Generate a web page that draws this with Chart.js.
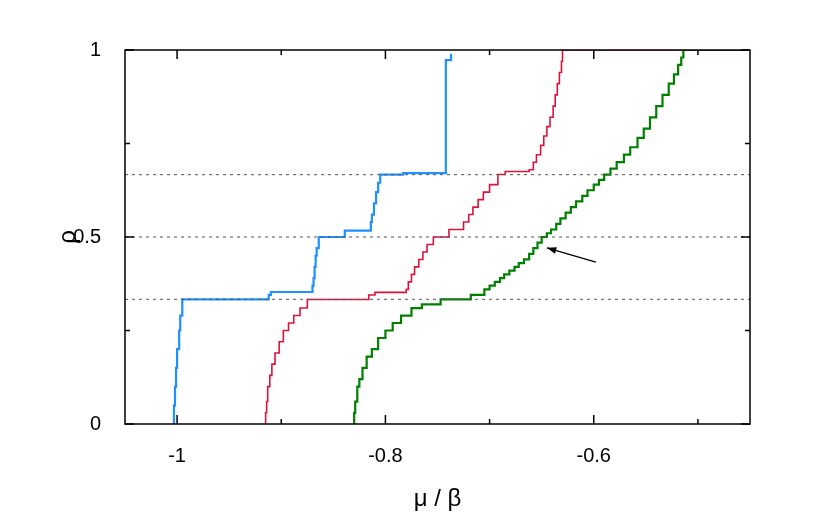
<!DOCTYPE html>
<html><head><script src="https://cdn.jsdelivr.net/npm/chart.js"></script>
<style>body{margin:0;background:#fff}#w{width:830px;height:518px}</style></head>
<body><div id="w"><canvas id="c"></canvas></div>
<script>
const blueX=[-1.004,-1.003,-1.002,-1.001,-1.000,-0.998,-0.997,-0.995,-0.912,-0.910,-0.870,-0.869,-0.868,-0.867,-0.866,-0.864,-0.839,-0.814,-0.813,-0.811,-0.809,-0.807,-0.805,-0.783,-0.742,-0.737];
const blueY=[0,0.05,0.1,0.15,0.2,0.25,0.29,0.333,0.345,0.353,0.37,0.39,0.42,0.45,0.47,0.5,0.517,0.54,0.56,0.59,0.62,0.645,0.667,0.671,0.973,0.99];
const redX=[-0.916,-0.915,-0.914,-0.913,-0.911,-0.909,-0.906,-0.902,-0.898,-0.893,-0.888,-0.882,-0.875,-0.816,-0.81,-0.78,-0.778,-0.775,-0.772,-0.768,-0.764,-0.76,-0.754,-0.739,-0.725,-0.72,-0.716,-0.711,-0.706,-0.700,-0.692,-0.685,-0.662,-0.658,-0.655,-0.651,-0.648,-0.645,-0.642,-0.639,-0.637,-0.635,-0.633,-0.631,-0.630,-0.45];
const redY=[0,0.03,0.06,0.1,0.13,0.16,0.19,0.22,0.25,0.27,0.29,0.31,0.333,0.345,0.352,0.36,0.38,0.4,0.42,0.44,0.46,0.48,0.5,0.52,0.54,0.56,0.58,0.6,0.62,0.64,0.667,0.675,0.68,0.70,0.72,0.745,0.77,0.795,0.82,0.85,0.88,0.91,0.94,0.97,1,1];
const greenX=[-0.831,-0.830,-0.829,-0.827,-0.825,-0.822,-0.818,-0.813,-0.807,-0.800,-0.793,-0.785,-0.775,-0.765,-0.747,-0.718,-0.705,-0.700,-0.695,-0.690,-0.686,-0.681,-0.676,-0.672,-0.667,-0.662,-0.658,-0.654,-0.650,-0.645,-0.641,-0.636,-0.632,-0.627,-0.622,-0.617,-0.611,-0.606,-0.600,-0.595,-0.590,-0.584,-0.578,-0.571,-0.565,-0.558,-0.552,-0.546,-0.540,-0.534,-0.528,-0.523,-0.519,-0.516,-0.514,-0.45];
const greenY=[0,0.03,0.06,0.1,0.12,0.15,0.18,0.2,0.23,0.25,0.27,0.29,0.31,0.32,0.333,0.345,0.36,0.37,0.38,0.39,0.4,0.41,0.42,0.43,0.44,0.455,0.47,0.485,0.5,0.51,0.52,0.535,0.55,0.565,0.58,0.595,0.61,0.625,0.64,0.653,0.667,0.683,0.7,0.72,0.74,0.765,0.79,0.82,0.85,0.88,0.91,0.935,0.96,0.98,1,1];
const refLevels=[1/3,0.5,2/3];
const xTicks=[-1,-0.8,-0.6];
const yTicks=[0,0.5,1];
const arrow={from:[-0.598,0.433],to:[-0.645,0.471]};
const pts=(xs,ys)=>xs.map((x,i)=>({x,y:ys[i]}));
const ds=[];
refLevels.forEach(l=>ds.push({data:[{x:-1.05,y:l},{x:-0.45,y:l}],borderColor:'#555',borderWidth:1,borderDash:[3,4],pointRadius:0}));
ds.push({data:pts(blueX,blueY),borderColor:'#2090ff',borderWidth:2.2,pointRadius:0,stepped:'before'});
ds.push({data:pts(redX,redY),borderColor:'#dc143c',borderWidth:1.6,pointRadius:0,stepped:'before'});
ds.push({data:pts(greenX,greenY),borderColor:'#008000',borderWidth:2.2,pointRadius:0,stepped:'before'});
const deco={id:'deco',afterDraw(ch){const c=ch.ctx,a=ch.chartArea,x=ch.scales.x,y=ch.scales.y;
c.save();c.strokeStyle='#000';c.lineWidth=1.5;c.strokeRect(a.left,a.top,a.right-a.left,a.bottom-a.top);
c.lineWidth=1.5;c.beginPath();
for(let v=-1;v<=-0.45;v+=0.1){const p=x.getPixelForValue(v);const L=Math.abs(Math.round(v*10))%2==0?9:5;c.moveTo(p,a.bottom);c.lineTo(p,a.bottom-L);c.moveTo(p,a.top);c.lineTo(p,a.top+L);}
for(let v=0;v<=1.001;v+=0.25){const p=y.getPixelForValue(v);const L=(Math.round(v*4)%2==0)?9:5;c.moveTo(a.left,p);c.lineTo(a.left+L,p);c.moveTo(a.right,p);c.lineTo(a.right-L,p);}
c.stroke();
const x1=x.getPixelForValue(arrow.from[0]),y1=y.getPixelForValue(arrow.from[1]),x2=x.getPixelForValue(arrow.to[0]),y2=y.getPixelForValue(arrow.to[1]);
c.lineWidth=1.3;c.beginPath();c.moveTo(x1,y1);c.lineTo(x2,y2);c.stroke();
const ang=Math.atan2(y2-y1,x2-x1);c.beginPath();c.moveTo(x2,y2);
c.lineTo(x2-10*Math.cos(ang-0.35),y2-10*Math.sin(ang-0.35));c.lineTo(x2-10*Math.cos(ang+0.35),y2-10*Math.sin(ang+0.35));c.closePath();c.fillStyle='#000';c.fill();
c.restore();}};
new Chart(document.getElementById('c'),{type:'line',data:{datasets:ds},plugins:[deco],
options:{responsive:true,maintainAspectRatio:false,animation:false,layout:{padding:{top:50,right:80,left:50,bottom:0}},
plugins:{legend:{display:false},tooltip:{enabled:false}},
scales:{x:{type:'linear',min:-1.05,max:-0.45,afterBuildTicks:s=>{s.ticks=xTicks.map(v=>({value:v}))},afterFit:s=>{s.height=94},
grid:{display:false},border:{display:false},ticks:{color:'#000',font:{family:'Liberation Sans',size:20},padding:12,maxRotation:0,callback:v=>String(v)},
title:{display:true,text:'μ / β',color:'#000',font:{family:'Liberation Sans',size:24},padding:{top:0}}},
y:{type:'linear',min:0,max:1,afterBuildTicks:s=>{s.ticks=yTicks.map(v=>({value:v}))},afterFit:s=>{s.width=75},
grid:{display:false},border:{display:false},ticks:{color:'#000',font:{family:'Liberation Sans',size:20},padding:16,callback:v=>String(v)},
title:{display:true,text:'ρ',color:'#000',font:{family:'Liberation Sans',size:24},padding:{bottom:0}}}}}});
</script></body></html>
